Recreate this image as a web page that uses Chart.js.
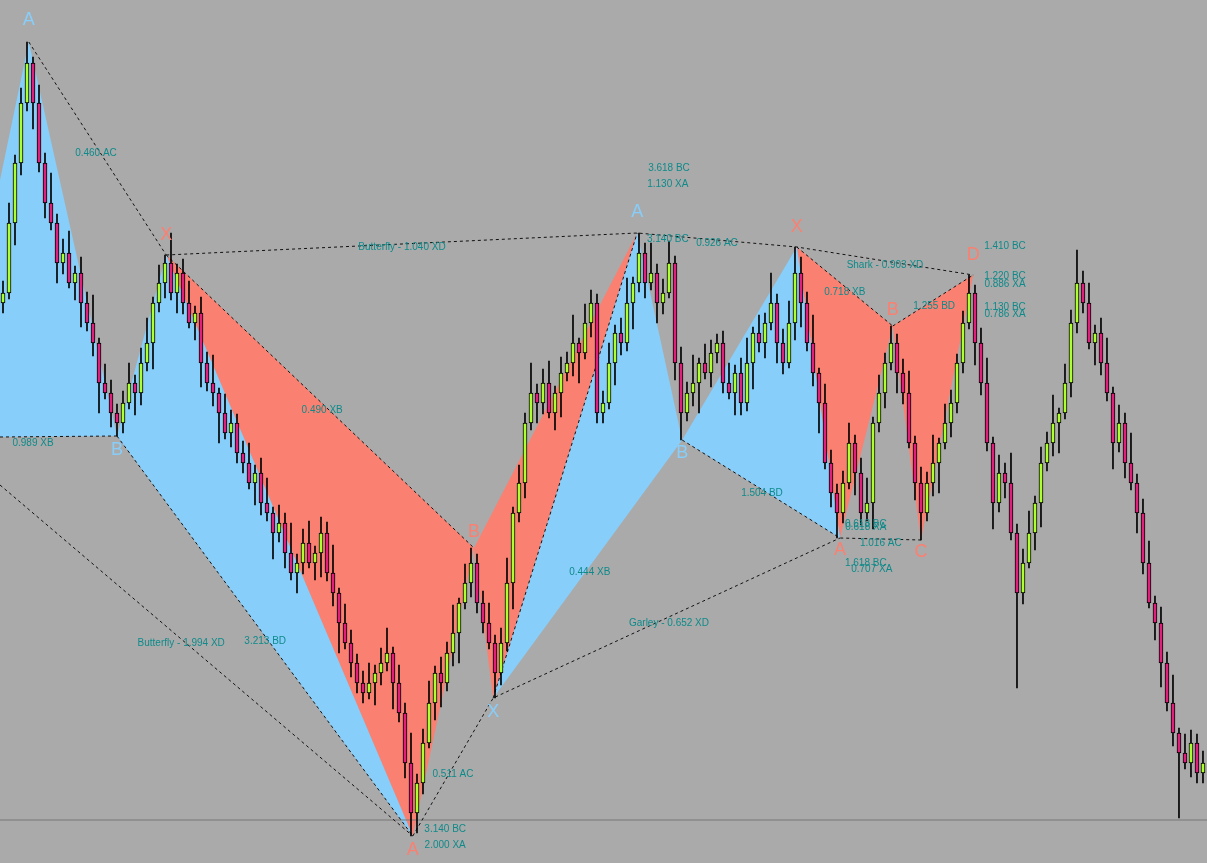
<!DOCTYPE html>
<html><head><meta charset="utf-8">
<script src="https://cdn.jsdelivr.net/npm/chart.js@4"></script>
<style>html,body{margin:0;padding:0;background:#aaaaaa;overflow:hidden}#w{width:1207px;height:863px}</style>
</head><body><div id="w"><canvas id="c"></canvas></div>
<script>
const closes=[570,640,700,760,800,760,700,660,640,600,610,580,590,560,540,520,480,470,450,440,
460,480,470,500,520,560,580,600,570,590,560,540,550,500,480,470,450,430,440,410,
400,380,390,360,350,330,340,310,290,300,320,300,310,330,290,270,240,220,200,180,
170,180,190,200,210,180,150,100,50,80,120,160,190,180,210,230,260,280,300,260,
240,220,190,220,280,350,380,440,470,460,480,450,470,490,500,520,510,540,560,450,
460,500,530,520,560,580,610,580,590,560,570,600,500,450,470,480,500,490,510,520,
480,470,490,460,500,530,520,540,560,520,500,540,590,560,520,490,460,400,370,350,
380,420,390,350,360,440,470,500,520,490,470,420,380,350,380,400,420,440,460,500,
540,570,520,480,420,360,390,380,330,270,300,330,360,400,420,440,450,480,540,580,
560,520,530,500,470,420,440,400,380,350,300,260,240,200,160,130,110,100,120,90,100];
const opens0=560;
const wickUp=[12,20,8,15,25,6,18,10,30,9,14,22,7,16,11,28,5,19,13,9];
const wickDn=[10,6,22,12,8,26,9,15,7,20,11,5,17,24,8,13,30,6,14,10];
const pivotHigh={4:821,27:608,78:315,106:630,132:616,148:537,161:588,179:613};
const pivotLow={19:427,68:27,82:165,113:423,139:325,153:323,169:175,196:45};
const letters=[["A",4.3,843,"b"],["X",27.2,628,"r"],["B",19,413,"b"],["A",68.3,13,"r"],["B",78.5,331,"r"],["X",81.7,151,"b"],["A",105.7,651,"b"],["B",113.2,410,"b"],["X",132.3,636,"r"],["B",148.3,553,"r"],["A",139.5,313,"r"],["C",153,311,"r"],["D",161.7,608,"r"]];
const notes=[["0.460 AC",15.5,710],["0.989 XB",5,420],["Butterfly - 1.040 XD",66.5,616],["0.490 XB",53.2,453],["Butterfly - 1.994 XD",29.7,220],["3.213 BD",43.7,222],["0.511 AC",75,89],["3.140 BC",73.7,34],["2.000 XA",73.7,18],["0.444 XB",97.8,291],["Garley - 0.652 XD",111,240],["3.618 BC",111,695],["1.130 XA",110.8,679],["3.140 BC",110.8,624],["0.926 AC",119,620],["1.504 BD",126.5,370],["0.718 XB",140.3,571],["Shark - 0.903 XD",147,598],["1.255 BD",155.2,557],["1.410 BC",167,617],["1.220 BC",167,587],["0.886 XA",167,579],["1.130 BC",167,556],["0.786 XA",167,549],["1.016 AC",146.3,320],["0.618 BC",143.8,339],["0.618 XA",143.8,336],["1.618 BC",143.8,300],["0.707 XA",144.8,294]];
const polysBlue=[[[-0.5,683],[4.3,821],[19,427],[-0.5,426]],[[27.2,608],[19,427],[68.3,27]],[[81.7,165],[105.7,630],[113.2,423]],[[113.2,423],[132.3,616],[139.5,325]]];
const polysRed=[[[27.2,608],[78.5,315],[68.3,27]],[[78.5,315],[105.7,630],[81.7,165]],[[132.3,616],[148.3,537],[139.5,325]],[[148.3,537],[161.7,588],[153,323]]];
const dashed=[[[4.3,821],[27.2,608]],[[27.2,608],[105.7,630],[132.3,616],[161.7,588]],[[19,427],[-0.5,426]],[[-0.5,378],[68.3,27]],[[68.3,27],[81.7,165],[139.5,325]],[[113.2,423],[139.5,325],[153,323]],[[27.2,608],[78.5,315]],[[19,427],[68.3,27]],[[148.3,537],[161.7,588]],[[132.3,616],[148.3,537]],[[81.7,165],[105.7,630]]];
const priceLine=43;

const wicks=[],bodies=[],bcol=[];
closes.forEach((c,i)=>{const o=i?closes[i-1]:opens0;
 let hi=Math.max(o,c)+wickUp[i%20],lo=Math.min(o,c)-wickDn[i%20];
 if(pivotHigh[i]!==undefined)hi=pivotHigh[i]; if(pivotLow[i]!==undefined)lo=pivotLow[i];
 wicks.push({x:i,y:[lo,hi]}); bodies.push({x:i,y:[Math.min(o,c),Math.max(o,c)+ (o===c?1:0)]}); bcol.push(c>=o?'#adff2f':'#e0207a');});
const ds=[];
const pt=p=>({x:p[0],y:p[1]});
polysBlue.forEach(p=>ds.push({type:'line',data:[...p,p[0]].map(pt),fill:'shape',backgroundColor:'#87cefa',borderWidth:0,pointRadius:0,order:10,tension:0}));
polysRed.forEach(p=>ds.push({type:'line',data:[...p,p[0]].map(pt),fill:'shape',backgroundColor:'#fa8072',borderWidth:0,pointRadius:0,order:10,tension:0}));
dashed.forEach(p=>ds.push({type:'line',data:p.map(pt),fill:false,borderColor:'#111',borderWidth:1,borderDash:[3,3],pointRadius:0,order:5}));
ds.push({type:'line',data:[{x:-0.5,y:priceLine},{x:201,y:priceLine}],borderColor:'#777',borderWidth:1,pointRadius:0,order:6});
ds.push({type:'bar',data:wicks,backgroundColor:'#000',barThickness:1,grouped:false,order:2});
ds.push({type:'bar',data:bodies,backgroundColor:bcol,borderColor:'#000',borderWidth:1,borderSkipped:false,barThickness:4,grouped:false,order:1});
const textPlugin={id:'txt',afterDatasetsDraw(ch){const {ctx,scales:{x,y}}=ch;ctx.save();ctx.textAlign='center';ctx.textBaseline='middle';
 ctx.font='10px "Liberation Sans"';ctx.fillStyle='#0f8a8a';
 notes.forEach(n=>ctx.fillText(n[0],x.getPixelForValue(n[1]),y.getPixelForValue(n[2])));
 ctx.font='18px "Liberation Sans"';
 letters.forEach(l=>{ctx.fillStyle=l[3]==='b'?'#87cefa':'#fa8072';ctx.fillText(l[0],x.getPixelForValue(l[1]),y.getPixelForValue(l[2]));});
 ctx.restore();}};
new Chart(document.getElementById('c'),{data:{datasets:ds},plugins:[textPlugin],
options:{responsive:true,maintainAspectRatio:false,animation:false,layout:{padding:0},
plugins:{legend:{display:false},tooltip:{enabled:false}},
scales:{x:{type:'linear',min:-0.5,max:200.67,offset:false,display:false},y:{min:0,max:863,offset:false,display:false}}}});
</script></body></html>
